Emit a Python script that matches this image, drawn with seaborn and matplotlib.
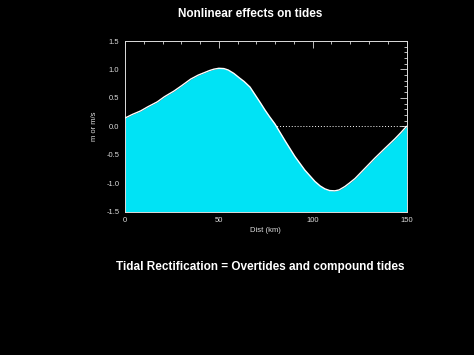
import numpy as np
import pandas as pd
import matplotlib
matplotlib.use("Agg")
import matplotlib.pyplot as plt
import seaborn as sns
from matplotlib.ticker import MultipleLocator

dist_km = [0, 4, 8.3, 12, 17.2, 21, 26.1, 30, 35, 39, 42, 45, 47.4, 50, 52.7, 55,
           58, 61, 63.4, 66.6, 69, 72, 74.5, 77, 79.9, 85.2, 90.5, 95.8, 101.2,
           104, 106.5, 109, 111.8, 114, 117.1, 119.5, 122.5, 127.8, 133.1, 138.4,
           143.8, 147, 150]
value = [0.145, 0.21, 0.27, 0.34, 0.43, 0.52, 0.62, 0.71, 0.83, 0.90, 0.94, 0.98,
         1.005, 1.02, 1.015, 0.99, 0.93, 0.85, 0.79, 0.69, 0.57, 0.42, 0.29, 0.17,
         0.04, -0.25, -0.53, -0.77, -0.97, -1.05, -1.10, -1.13, -1.135, -1.12,
         -1.06, -1.0, -0.92, -0.74, -0.56, -0.39, -0.22, -0.11, 0.0]
title = "Nonlinear effects on tides"
caption = "Tidal Rectification = Overtides and compound tides"
xlabel = "Dist (km)"
ylabel = "m or m/s"

df = pd.DataFrame({"dist": dist_km, "val": value})

sns.set_style("dark")
plt.rcParams["font.family"] = ["Liberation Sans", "DejaVu Sans"]

fig = plt.figure(figsize=(4.74, 3.55), dpi=100, facecolor="black")
ax = fig.add_axes([0.2637, 0.404, 0.594, 0.4805])
ax.set_facecolor("black")

ax.axhline(0, color="white", lw=0.7, ls=(0, (1, 2)), zorder=1)
ax.fill_between(df["dist"], -1.5, df["val"], color="#00E3F5", lw=0, zorder=2)
sns.lineplot(data=df, x="dist", y="val", ax=ax, color="white", lw=1.0, zorder=3)

ax.set_xlim(0, 150)
ax.set_ylim(-1.5, 1.5)
ax.xaxis.set_major_locator(MultipleLocator(50))
ax.xaxis.set_minor_locator(MultipleLocator(10))
ax.yaxis.set_major_locator(MultipleLocator(0.5))
ax.yaxis.set_minor_locator(MultipleLocator(0.1))
ax.yaxis.set_major_formatter(plt.FuncFormatter(lambda v, p: f"{v:.1f}"))
ax.xaxis.set_major_formatter(plt.FuncFormatter(lambda v, p: f"{v:.0f}"))
ax.tick_params(which="both", direction="in", top=True, right=True, colors="#dddddd",
               labelsize=5.5, pad=4)
ax.tick_params(which="major", length=5, width=0.6)
ax.tick_params(which="minor", length=2.5, width=0.6)
ax.grid(False)
for s in ax.spines.values():
    s.set_color("#dddddd")
    s.set_linewidth(0.7)
ax.set_xlabel(xlabel, color="#dddddd", fontsize=5.5, labelpad=2)
ax.set_ylabel(ylabel, color="#dddddd", fontsize=5.5, labelpad=6)

fig.text(250 / 474, 1 - 14 / 355, title, color="white", fontsize=8.5,
         fontweight="bold", ha="center", va="center")
fig.text(260 / 474, 1 - 267 / 355, caption, color="white", fontsize=8.5,
         fontweight="bold", ha="center", va="center")

fig.savefig("out.png", dpi=100, facecolor="black")
